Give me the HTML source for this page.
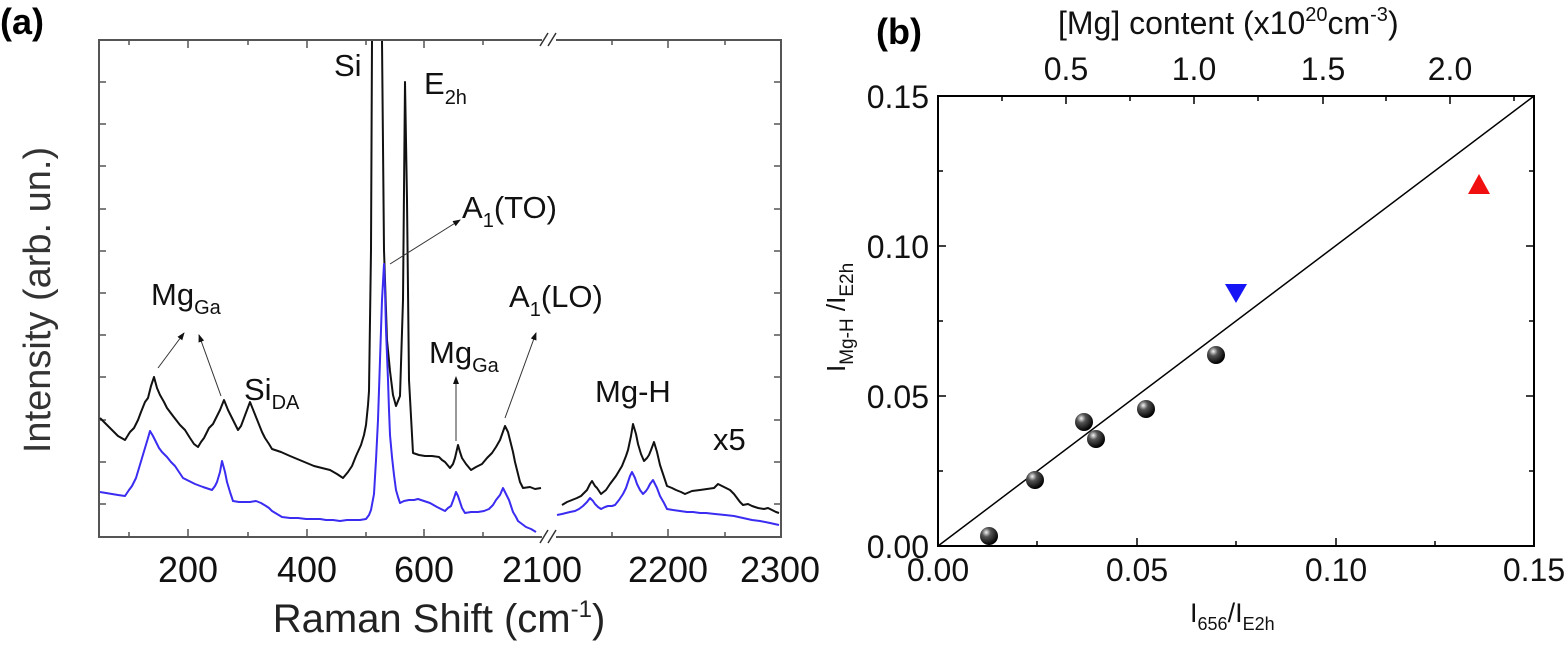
<!DOCTYPE html>
<html><head><meta charset="utf-8"><style>
html,body{margin:0;padding:0;background:#fff;}
svg{display:block;font-family:"Liberation Sans",Arial,sans-serif;}
</style></head><body>
<svg width="1566" height="646" viewBox="0 0 1566 646" xmlns="http://www.w3.org/2000/svg">
<!-- Panel (a) -->
<text x="0" y="34" font-size="36" font-weight="bold">(a)</text>
<rect x="99" y="40" width="682" height="497" fill="none" stroke="#555" stroke-width="2"/>
<g stroke="#555" stroke-width="1.5">
<path d="M99 82h7M99 124h7M99 166h7M99 209h7M99 251h7M99 293h7M99 335h7M99 377h7M99 420h7M99 462h7M99 504h7"/>
<path d="M781 82h-7M781 124h-7M781 166h-7M781 209h-7M781 251h-7M781 293h-7M781 335h-7M781 377h-7M781 420h-7M781 462h-7M781 504h-7"/>
<path d="M188 537v-8M307 537v-8M424 537v-8M668 537v-8M129 537v-5M248 537v-5M366 537v-5M483 537v-5M612 537v-5M725 537v-5"/>
<path d="M188 40v8M307 40v8M424 40v8M668 40v8M129 40v5M248 40v5M366 40v5M483 40v5M612 40v5M725 40v5"/>
</g>
<rect x="542" y="34" width="14" height="12" fill="#fff"/>
<rect x="542" y="531" width="14" height="12" fill="#fff"/>
<path d="M540 46L548 33M548 46L556 33M540 543L548 530M548 543L556 530" stroke="#333" stroke-width="1.5"/>
<g font-size="36" fill="#111" text-anchor="middle">
<text x="188" y="582">200</text><text x="307" y="582">400</text><text x="424" y="582">600</text>
<text x="542" y="582">2100</text><text x="668" y="582">2200</text><text x="780" y="582">2300</text>
</g>
<text x="439" y="632" font-size="40" fill="#222" text-anchor="middle">Raman Shift (cm<tspan dy="-15" font-size="24">-1</tspan><tspan dy="15">)</tspan></text>
<text transform="translate(50,300) rotate(-90)" font-size="38" fill="#333" text-anchor="middle">Intensity (arb. un.)</text>
<path fill="none" stroke="#111" stroke-width="2" stroke-linejoin="round" d="M100 418L106 424L112 430L118 436L125 440L130 432L134 428L138 420L141 412L145 402L148 398L151 386L154 377L157 388L160 395L164 402L167 408L173 416L180 425L185 430L190 438L194 444L198 447L201 442L204 438L207 432L209 428L213 424L216 418L220 410L224 400L228 410L231 416L235 424L238 430L241 426L244 418L247 410L250 402L254 412L258 422L262 432L265 438L269 444L272 449L281 452L290 456L302 461L314 466L322 468L330 470L337 474L343 478L348 472L352 466L356 456L361 445L364 435L366 425L368 405L369 391L371 250L372 41M382 41L384 250L387 340L390 371L393 395L396 406L400 396L403 300L405 82L407 200L409 380L413 453L419 455L425 456L432 456L439 457L442 460L445 462L450 468L453 464L455 458L458 445L460 452L462 458L466 464L471 470L476 467L482 464L487 458L492 453L496 447L500 440L505 426L508 432L510 440L513 452L515 462L518 474L520 482L523 488L530 487L535 489L541 488"/>
<path fill="none" stroke="#111" stroke-width="2" stroke-linejoin="round" d="M562 505L567 502L572 500L577 498L581 496L584 493L587 490L590 484L592 481L595 486L597 488L599 491L601 494L606 490L610 484L616 476L622 466L626 456L628 450L631 436L633 424L636 434L638 444L641 454L644 461L647 458L649 455L651 450L654 442L657 452L660 465L664 477L667 486L672 488L676 490L681 492L685 494L692 491L700 490L707 489L714 488L718 484L722 486L726 488L730 490L734 494L737 498L740 502L743 505L748 504L752 506L758 508L764 509L768 508L772 510L776 512L779 513"/>
<path fill="none" stroke="#3a2cf0" stroke-width="2" stroke-linejoin="round" d="M100 492L106 493L112 494L118 495L125 496L129 490L132 486L136 478L139 468L142 458L145 448L148 438L150 431L153 436L156 442L159 448L162 452L165 455L167 457L171 462L175 466L179 472L183 478L189 481L195 484L203 487L212 490L215 486L217 482L220 472L222 461L225 472L227 482L230 492L233 501L239 502L245 502L250 502L256 501L261 503L266 506L269 508L272 511L277 514L282 517L290 518L298 518L306 519L314 519L320 519L326 520L333 520L340 521L347 520L355 520L360 520L366 519L369 515L371 510L374 494L376 460L378 420L380 360L382 300L384 264L385 290L386 330L388 380L389 410L390 435L392 457L394 475L396 490L398 497L400 503L404 501L409 500L414 500L418 499L424 501L430 503L437 507L445 511L448 508L451 506L454 498L456 492L458 496L460 502L462 508L465 513L471 512L478 512L484 511L489 509L493 505L496 500L500 495L503 488L506 494L509 500L511 506L513 512L516 517L518 521L522 524L526 527L531 529L536 532"/>
<path fill="none" stroke="#3a2cf0" stroke-width="2" stroke-linejoin="round" d="M557 515L562 514L566 513L570 512L575 511L579 509L583 506L587 502L590 498L593 501L595 504L598 507L601 509L605 507L608 506L612 506L615 505L619 500L623 494L626 488L628 482L630 476L632 472L635 478L637 484L640 490L643 494L646 491L648 488L650 484L653 480L657 488L660 496L664 503L667 509L673 510L680 511L687 512L693 512L700 513L706 513L715 514L725 515L734 516L743 518L752 520L760 521L770 523L779 525"/>
<g font-size="31" fill="#111">
<text x="334" y="76">Si</text>
<text x="424" y="94">E<tspan dy="10" font-size="20">2h</tspan></text>
<text x="462" y="218">A<tspan dy="9" font-size="20">1</tspan><tspan dy="-9">(TO)</tspan></text>
<text x="151" y="305">Mg<tspan dy="9" font-size="20">Ga</tspan></text>
<text x="244" y="400">Si<tspan dy="9" font-size="20">DA</tspan></text>
<text x="429" y="363">Mg<tspan dy="9" font-size="20">Ga</tspan></text>
<text x="509" y="307">A<tspan dy="9" font-size="20">1</tspan><tspan dy="-9">(LO)</tspan></text>
<text x="595" y="402">Mg-H</text>
<text x="713" y="450">x5</text>
</g>
<defs><marker id="ar" markerWidth="8" markerHeight="8" refX="7" refY="4" orient="auto" markerUnits="userSpaceOnUse"><path d="M0 1L8 4L0 7Z" fill="#111"/></marker></defs>
<g stroke="#333" stroke-width="1" marker-end="url(#ar)">
<line x1="390" y1="264" x2="460" y2="220"/>
<line x1="158" y1="368" x2="184" y2="333"/>
<line x1="221" y1="396" x2="199" y2="335"/>
<line x1="456" y1="441" x2="456" y2="377"/>
<line x1="505" y1="418" x2="536" y2="333"/>
</g>

<!-- Panel (b) -->
<text x="876" y="44" font-size="36" font-weight="bold">(b)</text>
<text x="1058" y="34" font-size="32" fill="#111">[Mg] content (x10<tspan dy="-13" font-size="20">20</tspan><tspan dy="13">cm</tspan><tspan dy="-13" font-size="20">-3</tspan><tspan dy="13">)</tspan></text>
<g font-size="32" fill="#111" text-anchor="middle">
<text x="1066" y="80">0.5</text><text x="1194" y="80">1.0</text><text x="1323" y="80">1.5</text><text x="1450" y="80">2.0</text>
<text x="938" y="581">0.00</text><text x="1137" y="581">0.05</text><text x="1336" y="581">0.10</text><text x="1534" y="581">0.15</text>
</g>
<g font-size="32" fill="#111" text-anchor="end">
<text x="929" y="108">0.15</text><text x="929" y="258">0.10</text><text x="929" y="408">0.05</text><text x="929" y="558">0.00</text>
</g>
<rect x="938" y="96" width="596" height="450" fill="none" stroke="#000" stroke-width="2"/>
<g stroke="#000" stroke-width="1.5">
<path d="M1137 546v-8M1336 546v-8M1037 546v-5M1236 546v-5M1435 546v-5"/>
<path d="M1066 96v8M1194 96v8M1323 96v8M1450 96v8M1002 96v5M1130 96v5M1258 96v5M1386 96v5M1514 96v5"/>
<path d="M938 396h8M938 246h8M938 471h5M938 321h5M938 171h5"/>
<path d="M1534 396h-8M1534 246h-8M1534 471h-5M1534 321h-5M1534 171h-5"/>
</g>
<line x1="938" y1="546" x2="1534" y2="96" stroke="#000" stroke-width="1.5"/>
<defs><radialGradient id="sp" cx="0.35" cy="0.3" r="0.7"><stop offset="0" stop-color="#f4f4f4"/><stop offset="0.35" stop-color="#555"/><stop offset="1" stop-color="#000"/></radialGradient></defs>
<g fill="url(#sp)">
<circle cx="989" cy="536" r="9"/><circle cx="1035" cy="480" r="9"/><circle cx="1084" cy="422" r="9"/>
<circle cx="1096" cy="439" r="9"/><circle cx="1146" cy="409" r="9"/><circle cx="1216" cy="355" r="9"/>
</g>
<path d="M1225 284L1247 284L1236 303Z" fill="#1515f5"/>
<path d="M1468 194L1490 194L1479 174Z" fill="#f01010"/>
<text transform="translate(845,372) rotate(-90)" font-size="26" fill="#111">I<tspan dy="8" font-size="19">Mg-H</tspan><tspan dy="-8"> /I</tspan><tspan dy="8" font-size="19">E2h</tspan></text>
<text x="1190" y="622" font-size="27" fill="#111">I<tspan dy="8" font-size="18">656</tspan><tspan dy="-8">/I</tspan><tspan dy="8" font-size="18">E2h</tspan></text>
</svg>
</body></html>
